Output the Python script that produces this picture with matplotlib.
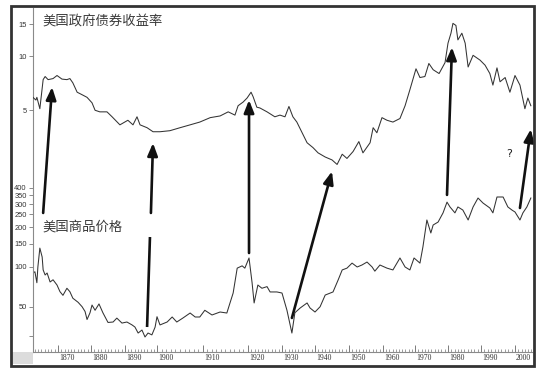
import numpy as np
import matplotlib
matplotlib.use("Agg")
import matplotlib.pyplot as plt
from matplotlib.patches import Rectangle
from matplotlib.ticker import FixedLocator, NullLocator, FixedFormatter
import matplotlib.transforms as mtransforms

# ---------------- data ----------------
yield_years = [1862.4, 1863.3, 1863.6, 1864.5, 1865.5, 1866.1, 1867.0, 1868.5, 1869.7, 1871.2,
               1872.7, 1873.6, 1874.5, 1875.8, 1877.3, 1878.8, 1880.3, 1881.2, 1882.6, 1884.7,
               1886.2, 1888.5, 1890.9, 1892.5, 1893.75, 1894.7, 1896.9, 1898.75, 1900.65, 1902.8,
               1905.0, 1907.2, 1909.3, 1911.6, 1913.8, 1915.6, 1917.1, 1917.8, 1918.9, 1919.8,
               1920.9, 1921.5, 1922.6, 1923.5, 1925.6, 1927.9, 1929.4, 1930.9, 1932.1, 1933.3,
               1934.5, 1936.1, 1937.6, 1939.4, 1940.9, 1943.0, 1945.0, 1946.5, 1948.0, 1949.4,
               1951.2, 1952.9, 1954.1, 1956.2, 1957.1, 1958.2, 1959.7, 1961.25, 1963.1, 1965.3,
               1966.9, 1968.4, 1970.3, 1971.5, 1973.0, 1974.2, 1975.5, 1977.3, 1979.1, 1980.0,
               1980.9, 1981.5, 1982.4, 1983.0, 1984.2, 1985.2, 1986.1, 1987.6, 1989.7, 1991.2,
               1992.6, 1993.5, 1994.7, 1995.6, 1997.1, 1998.5, 2000.0, 2001.5, 2003.0, 2003.9,
               2004.8]
yield_vals = [5.9, 5.7, 5.9, 5.1, 7.4, 7.7, 7.4, 7.5, 7.8, 7.45,
              7.4, 7.5, 7.1, 6.3, 6.1, 5.9, 5.5, 5.0, 4.9, 4.9,
              4.6, 4.15, 4.4, 4.15, 4.6, 4.15, 4.0, 3.8, 3.8, 3.85,
              4.0, 4.15, 4.3, 4.55, 4.65, 4.9, 4.7, 5.3, 5.55, 5.85,
              6.3, 5.95, 5.2, 5.15, 4.9, 4.6, 4.7, 4.6, 5.25, 4.6,
              4.3, 3.75, 3.3, 3.1, 2.9, 2.75, 2.65, 2.5, 2.85, 2.7,
              2.95, 3.35, 2.9, 3.3, 4.0, 3.75, 4.55, 4.4, 4.3, 4.5,
              5.3, 6.5, 8.5, 7.6, 7.7, 9.1, 8.4, 8.0, 9.2, 11.8,
              13.4, 15.2, 14.8, 12.3, 13.4, 11.8, 8.7, 10.1, 9.5, 8.9,
              8.0, 6.9, 8.6, 7.2, 7.6, 6.3, 7.8, 6.9, 5.1, 5.85,
              5.3]

comm_years = [1862.4, 1863.0, 1863.6, 1863.9, 1864.5, 1865.2, 1865.5, 1866.1, 1866.7, 1867.6,
              1868.5, 1869.7, 1870.6, 1871.5, 1872.7, 1873.6, 1874.5, 1876.1, 1877.3, 1878.2,
              1878.8, 1879.7, 1880.3, 1881.2, 1882.35, 1883.5, 1885.0, 1886.5, 1887.6, 1889.1,
              1890.6, 1892.2, 1893.1, 1894.1, 1895.3, 1896.25, 1897.2, 1898.4, 1899.4, 1900.0,
              1900.65, 1902.2, 1903.3, 1904.3, 1905.65, 1907.2, 1908.3, 1909.3, 1910.4, 1912.0,
              1913.8, 1915.3, 1916.0, 1916.7, 1917.6, 1918.7, 1919.3, 1920.3, 1921.2, 1921.8,
              1922.9, 1924.1, 1925.6, 1926.5, 1928.5, 1930.0, 1931.5, 1933.0, 1933.9, 1935.5,
              1937.6, 1938.5, 1940.0, 1941.5, 1943.0, 1945.3, 1946.8, 1948.0, 1949.4, 1950.9,
              1952.4, 1953.8, 1955.3, 1956.8, 1957.6, 1959.1, 1961.25, 1963.1, 1965.3, 1966.9,
              1968.4, 1969.7, 1971.5, 1972.4, 1973.6, 1974.8, 1975.5, 1977.0, 1978.5, 1979.7,
              1980.6, 1982.1, 1983.0, 1984.5, 1986.1, 1987.6, 1989.1, 1990.6, 1992.6, 1993.5,
              1994.7, 1996.5, 1997.9, 1999.1, 2000.0, 2001.5, 2002.4, 2003.6, 2004.8]
comm_vals = [90, 92, 76, 100, 139, 119, 95, 87, 90, 77,
             80, 73, 65, 61, 69, 65, 58, 54, 50, 46,
             40, 45, 51.5, 47, 52.5, 45, 38, 38.3, 41, 37.6,
             38.3, 36.4, 35.1, 31.6, 33.3, 29.5, 31.6, 30.6, 35, 42,
             36.4, 38.3, 41.8, 38.3, 41.1, 44.8, 41.8, 41.8, 47, 43.3,
             45.6, 44.8, 53.4, 63.5, 98, 102, 98, 117, 76, 53.4,
             73, 69, 71, 64.7, 64.7, 63.5, 47, 31.6, 45, 48.9,
             53.4, 48.9, 45.6, 50, 61.3, 64.7, 79.7, 95, 98, 107,
             100, 103.5, 109, 100, 93, 103.5, 98, 95, 117, 100,
             95, 117, 107, 142, 227, 181, 208, 219, 257, 310,
             285, 257, 285, 270, 227, 285, 333, 305, 280, 257,
             339, 339, 285, 270, 261, 227, 257, 285, 333]

decades = [1870, 1880, 1890, 1900, 1910, 1920, 1930, 1940, 1950, 1960, 1970, 1980, 1990, 2000]
decade_labels = [str(d) for d in decades]
yield_ticks = [5, 10, 15]
comm_ticks = [30, 50, 100, 150, 200, 250, 300, 350, 400]
comm_tick_labels = ["", "50", "100", "150", "200", "250", "300", "350", "400"]

# horizontal placement of the decades on the original (non-uniform) time axis
axis_years = [1800, 1860, 1870, 1880, 1890, 1900, 1910, 1920, 1930, 1940, 1950, 1960, 1970, 1980, 1990, 2000, 2010, 2100]
axis_pos = [-173, 25, 58, 91, 125, 157, 203, 248, 282, 315, 349, 383, 415, 448, 481, 515, 548, 845]

def fwd(x):
    return np.interp(x, axis_years, axis_pos)

def inv(p):
    return np.interp(p, axis_pos, axis_years)

# arrows: (tail year, tail commodity value, head year, head yield value)
arrows = [(1865.5, 256.6, 1868.2, 6.73),
          (1898.1, 256.6, 1898.75, 3.29),
          (1920.3, 127.6, 1920.3, 5.7),
          (1933.0, 41.1, 1945.0, 2.29),
          (1979.7, 351.6, 1981.2, 11.2),
          (2001.5, 279.9, 2004.8, 3.93)]
segment = (1896.9, 35.1, 1897.8, 168.7)

# ---------------- figure ----------------
W, H = 553, 374
fig = plt.figure(figsize=(W / 100, H / 100), dpi=100)
fig.patch.set_facecolor("white")

L, R, T, B = 33, 532, 8, 352
rect = [L / W, (H - B) / H, (R - L) / W, (B - T) / H]
ax_b = fig.add_axes(rect)
ax_t = fig.add_axes(rect, sharex=ax_b)
ax_t.patch.set_visible(False)

line_c = "#333333"
ax_b.plot(comm_years, comm_vals, color=line_c, lw=0.75)
ax_t.plot(yield_years, yield_vals, color=line_c, lw=0.75)

ax_b.set_xscale("function", functions=(fwd, inv))
ax_b.set_xlim(inv(L), inv(R))
ax_b.set_yscale("log")
ax_t.set_yscale("log")
ax_b.set_ylim(22.7, 9160)
ax_t.set_ylim(0.227, 18.5)

for ax in (ax_b, ax_t):
    for s in ("top", "right"):
        ax.spines[s].set_visible(False)
ax_t.spines["left"].set_visible(False)
ax_t.spines["bottom"].set_visible(False)
ax_b.spines["left"].set_color("#8a8a8a")
ax_b.spines["bottom"].set_color("#8a8a8a")
ax_b.spines["left"].set_linewidth(0.8)
ax_b.spines["bottom"].set_linewidth(0.8)

# y ticks
ax_t.yaxis.set_major_locator(FixedLocator(yield_ticks))
ax_t.yaxis.set_major_formatter(FixedFormatter([str(v) for v in yield_ticks]))
ax_t.yaxis.set_minor_locator(NullLocator())
ax_b.yaxis.set_major_locator(FixedLocator(comm_ticks))
ax_b.yaxis.set_major_formatter(FixedFormatter(comm_tick_labels))
ax_b.yaxis.set_minor_locator(NullLocator())
for ax in (ax_t, ax_b):
    ax.tick_params(axis="y", which="major", length=3, width=0.6, color="#777777",
                   labelsize=5.4, pad=1.5, labelcolor="#333333", direction="out")
    for lbl in ax.get_yticklabels():
        lbl.set_family("Liberation Sans")

# x ticks
ax_b.xaxis.set_major_locator(FixedLocator(decades))
ax_b.xaxis.set_major_formatter(FixedFormatter(decade_labels))
ax_b.xaxis.set_minor_locator(FixedLocator(list(range(1863, 2006))))
ax_b.tick_params(axis="x", which="major", length=5, width=0.6, color="#666666",
                 labelsize=5.6, pad=1.8, labelcolor="#333333", direction="in")
ax_b.tick_params(axis="x", which="minor", length=2.2, width=0.5, color="#777777", direction="in")
ax_t.tick_params(axis="x", which="both", bottom=False, labelbottom=False)
offset = mtransforms.ScaledTranslation(1 / 100, 0, fig.dpi_scale_trans)
for lbl in ax_b.get_xticklabels():
    lbl.set_ha("left")
    lbl.set_family("Liberation Serif")
    lbl.set_transform(lbl.get_transform() + offset)

# labels
cjk = ["Noto Sans CJK SC", "DejaVu Sans"]
ax_t.text(1865.2, 15.85, "美国政府债券收益率", fontsize=9.6, color="#3a3a3a",
          family=cjk, va="center", ha="left", fontweight="light")
ax_b.text(1865.2, 204, "美国商品价格", fontsize=9.6, color="#3a3a3a",
          family=cjk, va="center", ha="left", fontweight="light")
ax_t.text(1998.2, 2.85, "?", fontsize=8, color="#222222", va="center", ha="center",
          family="DejaVu Sans")

# arrows
for ty, tv, hy, hv in arrows:
    ax_t.annotate("", xy=(hy, hv), xycoords=ax_t.transData,
                  xytext=(ty, tv), textcoords=ax_b.transData,
                  arrowprops=dict(arrowstyle="-|>,head_length=0.75,head_width=0.3",
                                  color="#111111", lw=1.9, shrinkA=0, shrinkB=0))
ax_b.plot([segment[0], segment[2]], [segment[1], segment[3]], color="#111111", lw=1.9,
          solid_capstyle="butt")

# frame and bottom-left corner shading
fig.patches.append(Rectangle((12 / W, (H - 364) / H), (L - 12) / W, (364 - B) / H,
                             transform=fig.transFigure, facecolor="#dcdcdc", edgecolor="none", zorder=0))
fig.patches.append(Rectangle((10.5 / W, (H - 365.5) / H), (534 - 10.5) / W, (365.5 - 5.5) / H,
                             transform=fig.transFigure, fill=False, edgecolor="#333333", lw=2.0, zorder=5))

fig.savefig("out.png", dpi=100)
